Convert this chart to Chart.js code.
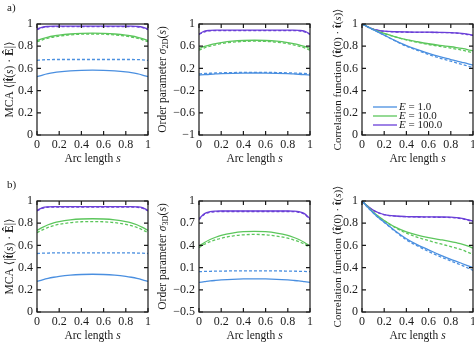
<!DOCTYPE html>
<html>
<head>
<meta charset="utf-8">
<script src="https://cdn.jsdelivr.net/npm/chart.js@4.4.1/dist/chart.umd.min.js"></script>
<style>
  body { margin: 0; background: #fff; }
  #wrap { position: relative; width: 474px; height: 342px; }
  #wrap canvas { position: absolute; left: 0; top: 0; }
</style>
</head>
<body>
<div id="wrap">
  <canvas id="mcaA" width="474" height="342"></canvas>
  <canvas id="orderA" width="474" height="342"></canvas>
  <canvas id="corrA" width="474" height="342"></canvas>
  <canvas id="mcaB" width="474" height="342"></canvas>
  <canvas id="orderB" width="474" height="342"></canvas>
  <canvas id="corrB" width="474" height="342"></canvas>
</div>
<script>
// arc length positions along the filament
const arcLength = [0, 0.05, 0.1, 0.15, 0.2, 0.3, 0.4, 0.5, 0.6, 0.7, 0.8, 0.85, 0.9, 0.95, 1];
const fieldLabels = ['1.0', '10.0', '100.0'];

const xTicks = [0, 0.2, 0.4, 0.6, 0.8, 1];
const unitTicks = [0, 0.2, 0.4, 0.6, 0.8, 1];
const sigma2dTicks = [-1, -0.6, -0.2, 0.2, 0.6, 1];
const sigma3dTicks = [-0.5, -0.2, 0.1, 0.4, 0.7, 1];

// row a) mean cosine of alignment
const mcaA_e1 = [0.525, 0.54, 0.552, 0.561, 0.568, 0.577, 0.582, 0.584, 0.582, 0.577, 0.568, 0.561, 0.552, 0.54, 0.525];
const mcaA_e1Dash = [0.672, 0.677, 0.679, 0.68, 0.68, 0.68, 0.68, 0.68, 0.68, 0.68, 0.68, 0.68, 0.679, 0.677, 0.672];
const mcaA_e10 = [0.85, 0.868, 0.882, 0.892, 0.9, 0.91, 0.915, 0.917, 0.915, 0.91, 0.9, 0.892, 0.882, 0.868, 0.85];
const mcaA_e10Dash = [0.84, 0.858, 0.872, 0.883, 0.891, 0.902, 0.908, 0.91, 0.908, 0.902, 0.891, 0.883, 0.872, 0.858, 0.84];
const mcaA_e100 = [0.955, 0.972, 0.978, 0.98, 0.98, 0.98, 0.98, 0.98, 0.98, 0.98, 0.98, 0.98, 0.978, 0.972, 0.955];
const mcaA_e100Dash = [0.95, 0.968, 0.975, 0.977, 0.977, 0.977, 0.977, 0.977, 0.977, 0.977, 0.977, 0.977, 0.975, 0.968, 0.95];

// row a) 2D order parameter
const orderA_e1 = [0.08, 0.088, 0.095, 0.1, 0.105, 0.112, 0.116, 0.117, 0.116, 0.112, 0.105, 0.1, 0.095, 0.088, 0.08];
const orderA_e1Dash = [0.1, 0.108, 0.113, 0.117, 0.12, 0.125, 0.128, 0.13, 0.128, 0.125, 0.12, 0.117, 0.113, 0.108, 0.1];
const orderA_e10 = [0.56, 0.595, 0.625, 0.648, 0.665, 0.69, 0.703, 0.707, 0.703, 0.69, 0.665, 0.648, 0.625, 0.595, 0.56];
const orderA_e10Dash = [0.53, 0.57, 0.6, 0.625, 0.645, 0.672, 0.686, 0.69, 0.686, 0.672, 0.645, 0.625, 0.6, 0.57, 0.53];
const orderA_e100 = [0.82, 0.87, 0.885, 0.89, 0.89, 0.89, 0.89, 0.89, 0.89, 0.89, 0.89, 0.89, 0.885, 0.87, 0.82];
const orderA_e100Dash = [0.81, 0.86, 0.878, 0.882, 0.882, 0.882, 0.882, 0.882, 0.882, 0.882, 0.882, 0.882, 0.878, 0.86, 0.81];

// row a) tangent correlation
const corrA_e1 = [1, 0.975, 0.95, 0.925, 0.9, 0.85, 0.805, 0.77, 0.735, 0.705, 0.68, 0.667, 0.655, 0.643, 0.63];
const corrA_e1Dash = [1, 0.975, 0.95, 0.924, 0.899, 0.847, 0.8, 0.762, 0.725, 0.693, 0.665, 0.65, 0.636, 0.622, 0.608];
const corrA_e10 = [1, 0.975, 0.952, 0.932, 0.915, 0.885, 0.86, 0.84, 0.822, 0.807, 0.795, 0.788, 0.78, 0.77, 0.757];
const corrA_e10Dash = [1, 0.975, 0.952, 0.932, 0.914, 0.884, 0.857, 0.835, 0.815, 0.798, 0.783, 0.774, 0.764, 0.752, 0.738];
const corrA_e100 = [1, 0.975, 0.955, 0.942, 0.935, 0.93, 0.928, 0.927, 0.926, 0.925, 0.923, 0.92, 0.915, 0.908, 0.9];
const corrA_e100Dash = [1, 0.974, 0.954, 0.941, 0.934, 0.928, 0.926, 0.925, 0.924, 0.923, 0.921, 0.918, 0.912, 0.905, 0.897];

// row b) mean cosine of alignment
const mcaB_e1 = [0.275, 0.29, 0.303, 0.313, 0.321, 0.332, 0.338, 0.34, 0.338, 0.332, 0.321, 0.313, 0.303, 0.29, 0.275];
const mcaB_e1Dash = [0.527, 0.53, 0.531, 0.532, 0.532, 0.532, 0.532, 0.532, 0.532, 0.532, 0.532, 0.532, 0.531, 0.53, 0.527];
const mcaB_e10 = [0.735, 0.763, 0.786, 0.803, 0.815, 0.83, 0.838, 0.84, 0.838, 0.83, 0.815, 0.803, 0.786, 0.763, 0.735];
const mcaB_e10Dash = [0.715, 0.74, 0.762, 0.778, 0.79, 0.805, 0.813, 0.815, 0.813, 0.805, 0.79, 0.778, 0.762, 0.74, 0.715];
const mcaB_e100 = [0.915, 0.94, 0.948, 0.95, 0.95, 0.95, 0.95, 0.95, 0.95, 0.95, 0.95, 0.95, 0.948, 0.94, 0.915];
const mcaB_e100Dash = [0.91, 0.935, 0.944, 0.946, 0.946, 0.946, 0.946, 0.946, 0.946, 0.946, 0.946, 0.946, 0.944, 0.935, 0.91];

// row b) 3D order parameter
const orderB_e1 = [-0.1, -0.09, -0.08, -0.073, -0.067, -0.058, -0.053, -0.052, -0.053, -0.058, -0.067, -0.073, -0.08, -0.09, -0.1];
const orderB_e1Dash = [0.045, 0.048, 0.05, 0.052, 0.053, 0.055, 0.055, 0.055, 0.055, 0.055, 0.053, 0.052, 0.05, 0.048, 0.045];
const orderB_e10 = [0.39, 0.44, 0.48, 0.51, 0.535, 0.567, 0.585, 0.59, 0.585, 0.567, 0.535, 0.51, 0.48, 0.44, 0.39];
const orderB_e10Dash = [0.37, 0.415, 0.45, 0.476, 0.497, 0.526, 0.543, 0.548, 0.543, 0.526, 0.497, 0.476, 0.45, 0.415, 0.37];
const orderB_e100 = [0.76, 0.83, 0.855, 0.863, 0.865, 0.865, 0.865, 0.865, 0.865, 0.865, 0.865, 0.863, 0.855, 0.83, 0.76];
const orderB_e100Dash = [0.75, 0.822, 0.848, 0.856, 0.858, 0.858, 0.858, 0.858, 0.858, 0.858, 0.858, 0.856, 0.848, 0.822, 0.75];

// row b) tangent correlation
const corrB_e1 = [1, 0.945, 0.895, 0.85, 0.81, 0.73, 0.66, 0.605, 0.56, 0.515, 0.475, 0.457, 0.437, 0.418, 0.4];
const corrB_e1Dash = [1, 0.944, 0.893, 0.848, 0.807, 0.725, 0.65, 0.595, 0.545, 0.5, 0.46, 0.44, 0.42, 0.398, 0.375];
const corrB_e10 = [1, 0.95, 0.9, 0.86, 0.825, 0.765, 0.722, 0.692, 0.67, 0.653, 0.635, 0.624, 0.612, 0.595, 0.575];
const corrB_e10Dash = [1, 0.95, 0.899, 0.858, 0.822, 0.76, 0.71, 0.673, 0.643, 0.615, 0.59, 0.575, 0.56, 0.54, 0.52];
const corrB_e100 = [1, 0.955, 0.918, 0.894, 0.878, 0.865, 0.86, 0.858, 0.857, 0.856, 0.854, 0.85, 0.843, 0.832, 0.82];
const corrB_e100Dash = [1, 0.954, 0.917, 0.893, 0.877, 0.863, 0.858, 0.856, 0.855, 0.853, 0.851, 0.847, 0.84, 0.828, 0.815];

const blue = '#4a8fe0';
const green = '#5cc65c';
const purple = '#6a3fd8';
const ink = '#1a1a1a';
const serif = '"Liberation Serif", "DejaVu Serif", serif';

const YW = 28, XH = 20;

// text runs: [text, style] with style '', 'i' (italic), 'b' (bold), 'sub'
const mcaTitle = [['MCA \u27E8|', ''], ['t\u0302', 'b'], ['(', ''], ['s', 'i'], [') \u00B7 ', ''], ['E\u0302', 'b'], ['|\u27E9', '']];
const sigma2dTitle = [['Order parameter ', ''], ['\u03C3', 'i'], ['2D', 'sub'], ['(', ''], ['s', 'i'], [')', '']];
const sigma3dTitle = [['Order parameter ', ''], ['\u03C3', 'i'], ['3D', 'sub'], ['(', ''], ['s', 'i'], [')', '']];
const corrTitle = [['Correlation function \u27E8', ''], ['t\u0302', 'b'], ['(0) \u00B7 ', ''], ['t\u0302', 'b'], ['(', ''], ['s', 'i'], [')\u27E9', '']];
const xTitle = [['Arc length ', ''], ['s', 'i']];

function drawRuns(ctx, runs, x, y, angle, size) {
    const fontFor = st => (st === 'i' ? 'italic ' : '') + (st === 'b' ? 'bold ' : '') +
        (st === 'sub' ? size * 0.72 : size) + 'px ' + serif;
    ctx.save();
    ctx.translate(x, y);
    ctx.rotate(angle);
    ctx.textBaseline = 'middle';
    ctx.textAlign = 'left';
    ctx.fillStyle = ink;
    let total = 0;
    const widths = runs.map(([t, st]) => {
        ctx.font = fontFor(st);
        const w = ctx.measureText(t).width;
        total += w;
        return w;
    });
    let cx = -total / 2;
    runs.forEach(([t, st], i) => {
        ctx.font = fontFor(st);
        ctx.fillText(t, cx, st === 'sub' ? size * 0.28 : 0);
        cx += widths[i];
    });
    ctx.restore();
}

// frame, inward ticks on all four sides, axis titles, panel tag, legend
const panelDecor = {
    id: 'panelDecor',
    afterDraw(chart, args, opts) {
        const { ctx, chartArea: a, scales: { x, y } } = chart;
        ctx.save();
        ctx.strokeStyle = ink;
        ctx.lineWidth = 1.2;
        ctx.beginPath();
        x.ticks.forEach(t => {
            const px = x.getPixelForValue(t.value);
            ctx.moveTo(px, a.bottom); ctx.lineTo(px, a.bottom - 4);
            ctx.moveTo(px, a.top); ctx.lineTo(px, a.top + 4);
        });
        y.ticks.forEach(t => {
            const py = y.getPixelForValue(t.value);
            ctx.moveTo(a.left, py); ctx.lineTo(a.left + 4, py);
            ctx.moveTo(a.right, py); ctx.lineTo(a.right - 4, py);
        });
        ctx.stroke();
        ctx.strokeRect(a.left, a.top, a.right - a.left, a.bottom - a.top);
        ctx.restore();

        drawRuns(ctx, xTitle, (a.left + a.right) / 2, a.bottom + 24, 0, 11.5);
        drawRuns(ctx, opts.yTitle, a.left - opts.yTitleGap, (a.top + a.bottom) / 2, -Math.PI / 2, opts.yTitleSize || 11.5);

        if (opts.tag) {
            ctx.save();
            ctx.font = '11px ' + serif;
            ctx.fillStyle = ink;
            ctx.textBaseline = 'middle';
            ctx.fillText(opts.tag, 7, a.top - 16);
            ctx.restore();
        }

        if (opts.legend) {
            const colors = [blue, green, purple];
            fieldLabels.forEach((lab, i) => {
                const ly = a.bottom - 28 + i * 9;
                ctx.save();
                ctx.strokeStyle = colors[i];
                ctx.lineWidth = 1.3;
                ctx.beginPath();
                ctx.moveTo(a.left + 11, ly);
                ctx.lineTo(a.left + 35, ly);
                ctx.stroke();
                ctx.font = 'italic 11px ' + serif;
                let w = ctx.measureText('E').width;
                ctx.font = '11px ' + serif;
                w += ctx.measureText(' = ' + lab).width;
                ctx.restore();
                drawRuns(ctx, [['E', 'i'], [' = ' + lab, '']], a.left + 37 + w / 2, ly, 0, 11);
            });
        }
    }
};

function makeSeries(list) {
    return list.map(([data, color, dashed]) => ({
        data: data,
        borderColor: color,
        borderWidth: 1.3,
        borderDash: dashed ? [3, 2] : [],
        pointRadius: 0,
        fill: false,
        cubicInterpolationMode: 'monotone'
    }));
}

function makePanel(id, rect, yTicks, yTitle, yTitleGap, series, extra) {
    const [l, t, r, b] = rect;
    const fixedTicks = vals => scale => { scale.ticks = vals.map(v => ({ value: v })); };
    const fmt = v => String(v).replace('-', '\u2212');
    return new Chart(document.getElementById(id), {
        type: 'line',
        data: { labels: arcLength, datasets: makeSeries(series) },
        plugins: [panelDecor],
        options: {
            responsive: false,
            devicePixelRatio: 1,
            animation: false,
            events: [],
            layout: {
                autoPadding: false,
                padding: { left: l - YW, top: t, right: 474 - r, bottom: 342 - b - XH }
            },
            scales: {
                x: {
                    type: 'linear',
                    min: 0, max: 1,
                    grid: { display: false, drawTicks: false },
                    border: { display: false },
                    afterBuildTicks: fixedTicks(xTicks),
                    afterFit: s => { s.height = XH; s.paddingLeft = 0; s.paddingRight = 0; },
                    ticks: { padding: 3, color: ink, font: { family: serif, size: 12 }, maxRotation: 0, autoSkip: false, callback: fmt }
                },
                y: {
                    min: yTicks[0], max: yTicks[yTicks.length - 1],
                    grid: { display: false, drawTicks: false },
                    border: { display: false },
                    afterBuildTicks: fixedTicks(yTicks),
                    afterFit: s => { s.width = YW; s.paddingTop = 0; s.paddingBottom = 0; },
                    ticks: { padding: 4, color: ink, font: { family: serif, size: 12 }, autoSkip: false, callback: fmt }
                }
            },
            plugins: {
                legend: { display: false },
                tooltip: { enabled: false },
                panelDecor: Object.assign({ yTitle: yTitle, yTitleGap: yTitleGap }, extra || {})
            }
        }
    });
}

makePanel('mcaA', [37, 24, 148, 135], unitTicks, mcaTitle, 27, [
    [mcaA_e1, blue, false], [mcaA_e1Dash, blue, true],
    [mcaA_e10, green, false], [mcaA_e10Dash, green, true],
    [mcaA_e100, purple, false], [mcaA_e100Dash, purple, true]
], { tag: 'a)' });

makePanel('orderA', [199, 24, 310, 135], sigma2dTicks, sigma2dTitle, 36, [
    [orderA_e1, blue, false], [orderA_e1Dash, blue, true],
    [orderA_e10, green, false], [orderA_e10Dash, green, true],
    [orderA_e100, purple, false], [orderA_e100Dash, purple, true]
]);

makePanel('corrA', [362, 24, 473, 135], unitTicks, corrTitle, 24, [
    [corrA_e1, blue, false], [corrA_e1Dash, blue, true],
    [corrA_e10, green, false], [corrA_e10Dash, green, true],
    [corrA_e100, purple, false], [corrA_e100Dash, purple, true]
], { legend: true, yTitleSize: 11 });

makePanel('mcaB', [37, 201, 148, 312], unitTicks, mcaTitle, 27, [
    [mcaB_e1, blue, false], [mcaB_e1Dash, blue, true],
    [mcaB_e10, green, false], [mcaB_e10Dash, green, true],
    [mcaB_e100, purple, false], [mcaB_e100Dash, purple, true]
], { tag: 'b)' });

makePanel('orderB', [199, 201, 310, 312], sigma3dTicks, sigma3dTitle, 36, [
    [orderB_e1, blue, false], [orderB_e1Dash, blue, true],
    [orderB_e10, green, false], [orderB_e10Dash, green, true],
    [orderB_e100, purple, false], [orderB_e100Dash, purple, true]
]);

makePanel('corrB', [362, 201, 473, 312], unitTicks, corrTitle, 24, [
    [corrB_e1, blue, false], [corrB_e1Dash, blue, true],
    [corrB_e10, green, false], [corrB_e10Dash, green, true],
    [corrB_e100, purple, false], [corrB_e100Dash, purple, true]
], { yTitleSize: 11 });
</script>
</body>
</html>
